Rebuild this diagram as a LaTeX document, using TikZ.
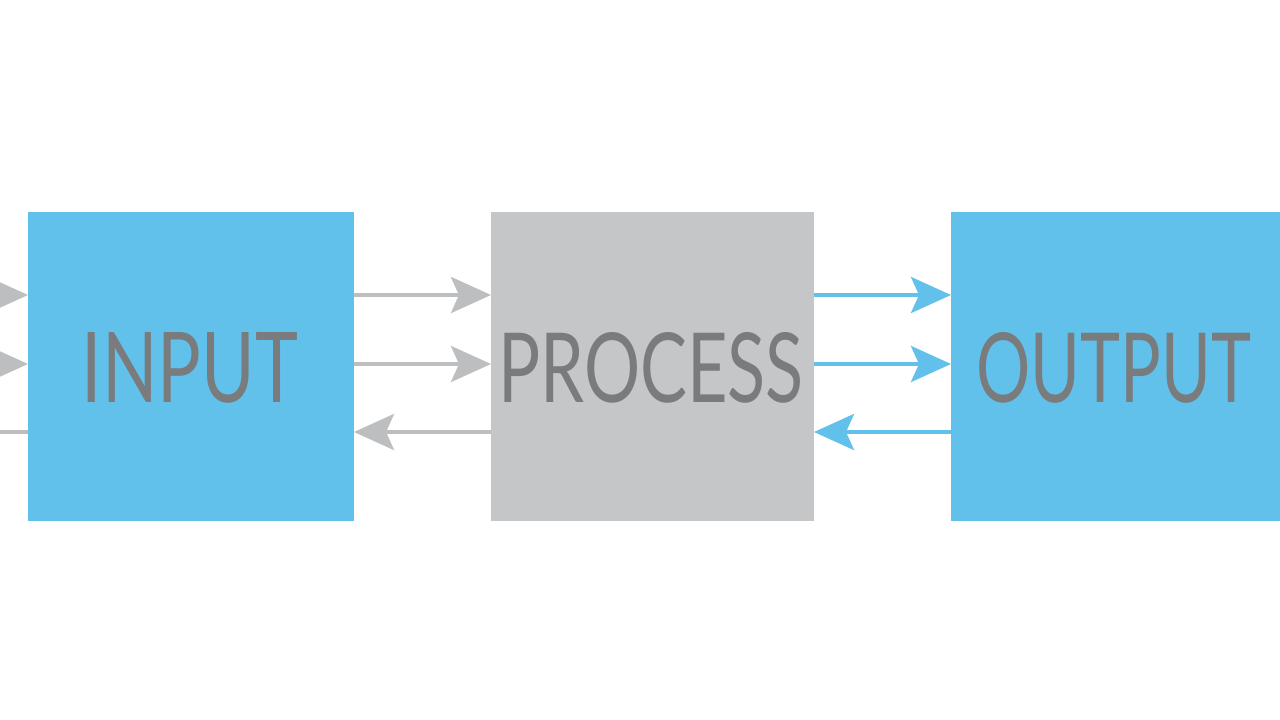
\documentclass[tikz,border=0pt]{standalone}
\usepackage{fontspec}
\usepackage{graphicx}
\setmainfont{Lato}
\usetikzlibrary{arrows.meta}
\definecolor{bl}{HTML}{62C1EA}
\definecolor{gb}{HTML}{C4C6C8}
\definecolor{ga}{HTML}{BDBEC0}
\definecolor{tx}{HTML}{7A7B7D}
\tikzset{
  box/.style={draw=none,fill=#1,minimum width=#1,inner sep=0},
  lbl/.style={text=tx,inner sep=0,anchor=center},
  arr/.style={draw=#1,line width=3pt,-{Stealth[length=30pt,width=27pt,inset=6pt]}},
}
\begin{document}
\begin{tikzpicture}[x=0.75pt,y=-0.75pt]
\useasboundingbox (0,0) rectangle (1280,720);
\fill[white] (0,0) rectangle (1280,720);
\fill[bl] (28,212) rectangle (354,521);
\fill[gb] (491,212) rectangle (814,521);
\fill[bl] (951,212) rectangle (1280,521);
\node[lbl] (in) at (190,368) {\resizebox{162pt}{52.5pt}{INPUT}};
\node[lbl] (pr) at (651,368) {\resizebox{229pt}{52.5pt}{PROCESS}};
\node[lbl] (out) at (1114,368) {\resizebox{206pt}{52.5pt}{OUTPUT}};
\coordinate (l1) at (-60,295); \coordinate (il1) at (28,295);
\coordinate (l2) at (-60,364); \coordinate (il2) at (28,364);
\coordinate (l3) at (0,432); \coordinate (il3) at (28,432);
\draw[arr=ga] (l1) -- (il1);
\draw[arr=ga] (l2) -- (il2);
\draw[draw=ga,line width=3pt] (il3) -- (l3);
\coordinate (a1) at (354,295); \coordinate (b1) at (491,295);
\coordinate (a2) at (354,364); \coordinate (b2) at (491,364);
\coordinate (a3) at (354,432); \coordinate (b3) at (491,432);
\draw[arr=ga] (a1) -- (b1);
\draw[arr=ga] (a2) -- (b2);
\draw[arr=ga] (b3) -- (a3);
\coordinate (c1) at (814,295); \coordinate (d1) at (951,295);
\coordinate (c2) at (814,364); \coordinate (d2) at (951,364);
\coordinate (c3) at (814,432); \coordinate (d3) at (951,432);
\draw[arr=bl] (c1) -- (d1);
\draw[arr=bl] (c2) -- (d2);
\draw[arr=bl] (d3) -- (c3);
\end{tikzpicture}
\end{document}
